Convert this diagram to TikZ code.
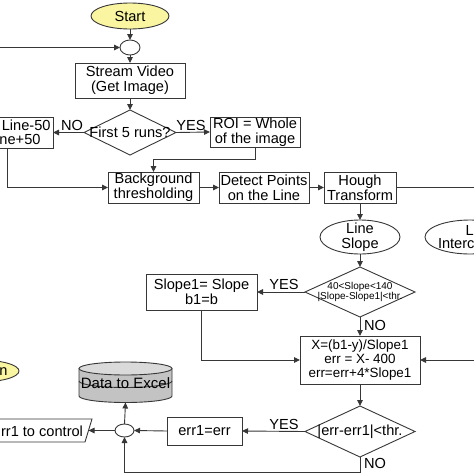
\documentclass[tikz,border=0pt]{standalone}
\usepackage{fontspec}
\setmainfont{Liberation Sans}
\usetikzlibrary{shapes.geometric,arrows.meta}
\definecolor{termyellow}{RGB}{250,245,160}
\definecolor{dbgray}{RGB}{195,195,195}
\definecolor{dbtop}{RGB}{218,218,218}
\definecolor{linec}{RGB}{55,55,55}
\begin{document}
\begin{tikzpicture}[x=1pt,y=-1pt,
  every node/.style={font=\fontsize{14.6}{15}\selectfont, outer sep=0pt, inner sep=0pt},
  ln/.style={draw=linec, line width=0.9pt},
  arr/.style={ln, -{Triangle[length=6pt,width=5.5pt]}},
  procbox/.style={rectangle, draw=linec, line width=0.9pt, fill=white, align=center},
  termshape/.style={ellipse, draw=linec, line width=0.9pt, fill=termyellow},
  oval/.style={ellipse, draw=linec, line width=0.9pt, fill=white},
  decision/.style={diamond, draw=linec, line width=0.9pt, fill=white},
  lbl/.style={font=\fontsize{14.6}{15}\selectfont, align=center},
  smalllbl/.style={font=\fontsize{10}{10.5}\selectfont, align=center}
]
\fill[white] (0,0) rectangle (474,474);
\useasboundingbox (0,0) rectangle (474,474);
\clip (0,0) rectangle (474,474);

% top part
\node[termshape, minimum width=78pt, minimum height=26pt] (start) at (130,16) {Start};
\node[oval, minimum width=20pt, minimum height=15pt] (c1) at (130,47.5) {};
\node[procbox, minimum width=110pt, minimum height=35pt] (stream) at (130,80.5) {Stream Video\\(Get Image)};
\node[decision, minimum width=92pt, minimum height=45pt, label={[lbl]center:First 5 runs?}] (d1) at (130,132.5) {};
\node[procbox, minimum width=100pt, minimum height=31pt, anchor=east] (roiline) at (53,132.5) {};
\node[anchor=east] (roilineA) at (50.5,125.5) {Line-50};
\node[anchor=east] (roilineB) at (40.5,139.5) {ne+50};
\node[procbox, minimum width=90pt, minimum height=30pt] (roiw) at (255,132) {ROI = Whole\\of the image};
\node (no1) at (72,125) {NO};
\node (yes1) at (191,125) {YES};

% processing row
\node[procbox, minimum width=91pt, minimum height=31pt] (bg) at (153.5,187.5) {Background\\thresholding};
\node[procbox, minimum width=90pt, minimum height=31pt] (det) at (264,187.5) {Detect Points\\on the Line};
\node[procbox, minimum width=72pt, minimum height=31pt] (hough) at (360,187.5) {Hough\\Transform};

% slope / intercept
\node[oval, minimum width=80pt, minimum height=34pt, label={[lbl]center:Line\\Slope}] (slope) at (360,237) {};
\node[oval, minimum width=90pt, minimum height=34pt] (icpt) at (470,237) {};
\node[anchor=west] (icptA) at (465.5,230) {L};
\node[anchor=west] (icptB) at (438,243.5) {Interc};

% slope decision
\node[decision, minimum width=110pt, minimum height=50pt, label={[smalllbl]center:40<Slope<140\\|Slope-Slope1|<thr.}] (ds) at (360,292) {};
\node[procbox, minimum width=111pt, minimum height=36pt] (s1) at (201.5,292) {Slope1= Slope\\b1=b};
\node (yes2) at (284,284) {YES};
\node (no2) at (375,325) {NO};

% calculation
\node[procbox, minimum width=120pt, minimum height=48pt, font=\fontsize{13.4}{13.6}\selectfont] (calc) at (360,360) {X=(b1-y)/Slope1\\err = X- 400\\err=err+4*Slope1};

% error decision
\node[decision, minimum width=110pt, minimum height=51pt, label={[lbl]center:|err-err1|<thr.}] (de) at (360,431.5) {};
\node[procbox, minimum width=75pt, minimum height=28pt] (e1) at (204.5,431) {err1=err};
\node[oval, minimum width=19pt, minimum height=13pt] (c2) at (124.5,430.5) {};
\node (yes3) at (284,424) {YES};
\node (no3) at (375,463) {NO};

% database cylinder
\filldraw[fill=dbgray, draw=linec, line width=0.9pt] (79,368.5) -- (79,396) arc[start angle=180,end angle=360,x radius=46.5pt,y radius=6.5pt] -- (172,368.5);
\draw[fill=dbtop, draw=linec, line width=0.9pt] (125.5,368.5) ellipse[x radius=46.5pt, y radius=6.5pt];
\draw[linec, line width=0.9pt] (79,381) arc[start angle=180,end angle=360,x radius=46.5pt,y radius=6.5pt];
\node[minimum width=93pt, minimum height=39pt, font=\fontsize{15}{16}\selectfont] (excel) at (125.5,383) {Data to Excel};

% output parallelogram
\filldraw[fill=white, draw=linec, line width=0.9pt] (-10,419) -- (92,419) -- (85,442) -- (-10,442) -- cycle;
\coordinate (outp) at (88.5,430.5);
\node[anchor=east] (outtxt) at (83,431) {rr1 to control};

% end terminal
\node[termshape, minimum width=78pt, minimum height=22pt] (endt) at (-20,371) {};
\node[anchor=east] (endtxt) at (7.5,372) {n};

% connectors
\coordinate (lin) at (0,47.5);
\coordinate (lb) at (7,148);
\coordinate (hr) at (474,187.5);
\coordinate (cr) at (474,360);
\draw[arr] (start.south) -- (c1.north);
\draw[arr] (lin) -- (c1.west);
\draw[arr] (c1.south) -- (stream.north);
\draw[arr] (stream.south) -- (d1.north);
\draw[arr] (d1.west) -- (roiline.east);
\draw[arr] (d1.east) -- (roiw.west);
\draw[arr] (roiw.south) -- ++(0,12.5) -| (bg.north);
\draw[arr] (lb) |- (bg.west);
\draw[arr] (bg.east) -- (det.west);
\draw[arr] (det.east) -- (hough.west);
\draw[ln] (hough.east) -- (hr);
\draw[arr] (hough.south) -- (slope.north);
\draw[arr] (slope.south) -- (ds.north);
\draw[arr] (ds.west) -- (s1.east);
\draw[arr] (ds.south) -- (calc.north);
\draw[arr] (s1.south) |- (calc.west);
\draw[arr] (cr) -- (calc.east);
\draw[arr] (calc.south) -- (de.north);
\draw[arr] (de.west) -- (e1.east);
\draw[arr] (de.south) -- ++(0,15.5) -| (c2.south);
\draw[arr] (e1.west) -- (c2.east);
\draw[arr] (c2.north) -- (excel.south);
\draw[arr] (c2.west) -- (outp);
\end{tikzpicture}
\end{document}
